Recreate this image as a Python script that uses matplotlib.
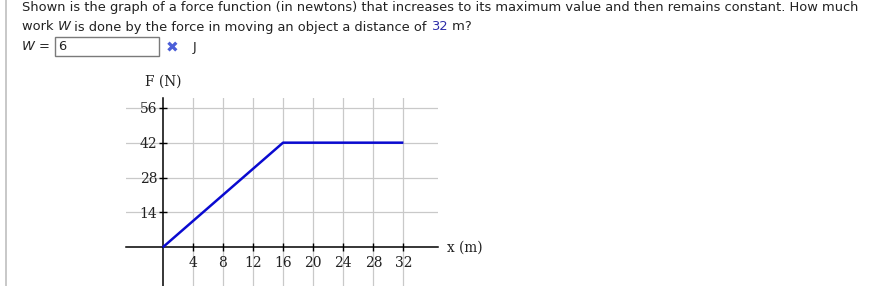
import matplotlib.pyplot as plt
from matplotlib.patches import Rectangle
from matplotlib.lines import Line2D

# force function F(x): rises to max then stays constant
x_pts = [0, 16, 32]
f_pts = [0, 42, 42]
x_ticks = [4, 8, 12, 16, 20, 24, 28, 32]
y_ticks = [14, 28, 42, 56]
answer = "6"

W, H = 885, 286
fig = plt.figure(figsize=(W / 100, H / 100), dpi=100)
fig.patch.set_facecolor("white")


def fx(px):
    return px / W


def fy(py):
    return 1 - py / H


# left border of the page
fig.add_artist(Line2D([fx(6), fx(6)], [fy(0), fy(285)], color="#c8c8c8", lw=1.4))

txt_kw = dict(fontsize=9.33, family="DejaVu Sans", color="#222222", va="center")
fig.text(fx(22), fy(7), "Shown is the graph of a force function (in newtons) that increases to its "
         "maximum value and then remains constant. How much", **txt_kw)

# second line with italic W and blue number, placed piece by piece
renderer = fig.canvas.get_renderer()
pieces = [("work ", {}), ("W", {"style": "italic"}),
          (" is done by the force in moving an object a distance of ", {}),
          ("32", {"color": "#2d2da8"}), (" m?", {})]
xpos = fx(22)
for s, extra in pieces:
    kw = dict(txt_kw)
    kw.update(extra)
    t = fig.text(xpos, fy(27), s.replace(" ", "\u00a0"), **kw)
    bb = t.get_window_extent(renderer)
    xpos += bb.width / W

fig.text(fx(22), fy(47), "W", fontstyle="italic", **txt_kw)
fig.text(fx(39), fy(47), "=", **txt_kw)
fig.add_artist(Rectangle((fx(55), fy(56)), fx(104), 19 / H, fill=False,
                         edgecolor="#7a7a7a", lw=1))
fig.text(fx(58), fy(46.5), answer, **txt_kw)
fig.text(fx(172.5), fy(48), "\u2716", fontsize=11, color="#4b5ed8", ha="center",
         va="center", family="DejaVu Sans")
fig.text(fx(193), fy(47), "J", **txt_kw)

# chart area
x0, x1 = 126, 438
y0, y1 = 98.3, 286
ax = fig.add_axes([fx(x0), fy(y1), (x1 - x0) / W, (y1 - y0) / H])
ax.set_xlim(-4.88, 36.6)
ax.set_ylim(-15.5, 59.8)
ax.set_facecolor("none")

ax.plot(x_pts, f_pts, color="#0a0ad0", lw=1.8, solid_capstyle="butt", zorder=3)

for s in ["top", "right"]:
    ax.spines[s].set_visible(False)
ax.spines["left"].set_position(("data", 0))
ax.spines["bottom"].set_position(("data", 0))
for s in ["left", "bottom"]:
    ax.spines[s].set_linewidth(1.1)
    ax.spines[s].set_zorder(2)

ax.set_xticks(x_ticks)
ax.set_yticks(y_ticks)
ax.set_xticklabels([str(v) for v in x_ticks])
ax.set_yticklabels([str(v) for v in y_ticks])
ax.tick_params(direction="inout", length=6, width=1, labelsize=10, labelcolor="#222222")
ax.tick_params(axis="x", pad=3)
ax.tick_params(axis="y", pad=1)
for lab in ax.get_xticklabels() + ax.get_yticklabels():
    lab.set_family("DejaVu Serif")
ax.grid(True, color="#c9c9c9", lw=0.9, zorder=0)
ax.set_axisbelow(True)

fig.text(fx(145), fy(82), "F (N)", family="DejaVu Serif", fontsize=9.8,
         color="#222222", va="center")
fig.text(fx(447), fy(248), "x (m)", family="DejaVu Serif", fontsize=9.8,
         color="#222222", va="center")

fig.savefig("out.png", dpi=100)
